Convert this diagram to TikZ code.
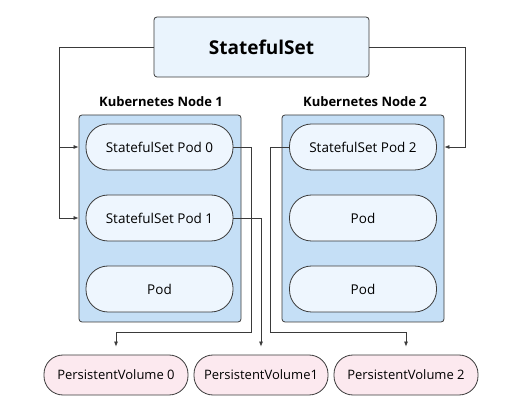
\documentclass[tikz,border=0pt]{standalone}
\usepackage{fontspec}
\setmainfont{Open Sans}
\usetikzlibrary{arrows.meta}
\definecolor{setfill}{HTML}{EAF4FD}
\definecolor{hostfill}{HTML}{C5DFF6}
\definecolor{podfill}{HTML}{EEF6FE}
\definecolor{volfill}{HTML}{FCE9EF}
\definecolor{edge}{HTML}{3A3A3A}
\begin{document}
\begin{tikzpicture}[x=1pt,y=-1pt,
  host/.style={draw=edge,fill=hostfill,rounded corners=3pt,line width=0.8pt,minimum width=162pt,minimum height=207pt},
  pod/.style={draw=edge,fill=podfill,rounded corners=22pt,line width=0.8pt,minimum width=147pt,minimum height=46pt,font=\fontsize{13.5}{16}\selectfont},
  vol/.style={draw=edge,fill=volfill,rounded corners=19pt,line width=0.8pt,minimum width=144pt,minimum height=40pt,font=\fontsize{13}{16}\selectfont},
  wire/.style={draw=edge,line width=0.7pt},
  tip/.style={-{Latex[length=5pt,width=4pt]}}]
\useasboundingbox (0,0) rectangle (530,411);
\node[draw=edge,fill=setfill,rounded corners=3pt,line width=0.8pt,minimum width=215pt,minimum height=60pt,font=\fontsize{19}{22}\selectfont\bfseries] (ss) at (261.5,47) {StatefulSet};
% nodes
\node[host] (n1) at (160,218.5) {};
\node[host] (n2) at (363,218.5) {};
\node[font=\fontsize{13}{15}\selectfont\bfseries] (l1) at (161,102) {Kubernetes Node 1};
\node[font=\fontsize{13}{15}\selectfont\bfseries] (l2) at (365,102) {Kubernetes Node 2};
\node[pod] (p0) at (159.5,147) {StatefulSet Pod 0};
\node[pod] (p1) at (159.5,218) {StatefulSet Pod 1};
\node[pod] (p3) at (159.5,289) {Pod};
\node[pod] (p2) at (363,147) {StatefulSet Pod 2};
\node[pod] (p4) at (363,218) {Pod};
\node[pod] (p5) at (363,289) {Pod};
% volumes
\node[vol] (v0) at (116,375) {PersistentVolume 0};
\node[vol,minimum width=134pt] (v1) at (261,375) {PersistentVolume1};
\node[vol] (v2) at (406,375) {PersistentVolume 2};
% controller lines
\coordinate (lbus) at (59,47);
\coordinate (rbus) at (465,47);
\draw[wire,tip] (ss.west) -- (lbus) |- (n1.west |- p0);
\draw[wire,tip] (lbus) |- (n1.west |- p1);
\draw[wire,tip] (ss.east) -- (rbus) |- (n2.east |- p2);
% volume claims
\coordinate (c0) at (251,332);
\coordinate (c2) at (270,332);
\draw[wire,tip,shorten >=8pt] (p0.east) -| (c0) -| (v0.north);
\draw[wire,tip,shorten >=8pt] (p1.east) -| (v1.north);
\draw[wire,tip,shorten >=8pt] (p2.west) -| (c2) -| (v2.north);
\end{tikzpicture}
\end{document}
